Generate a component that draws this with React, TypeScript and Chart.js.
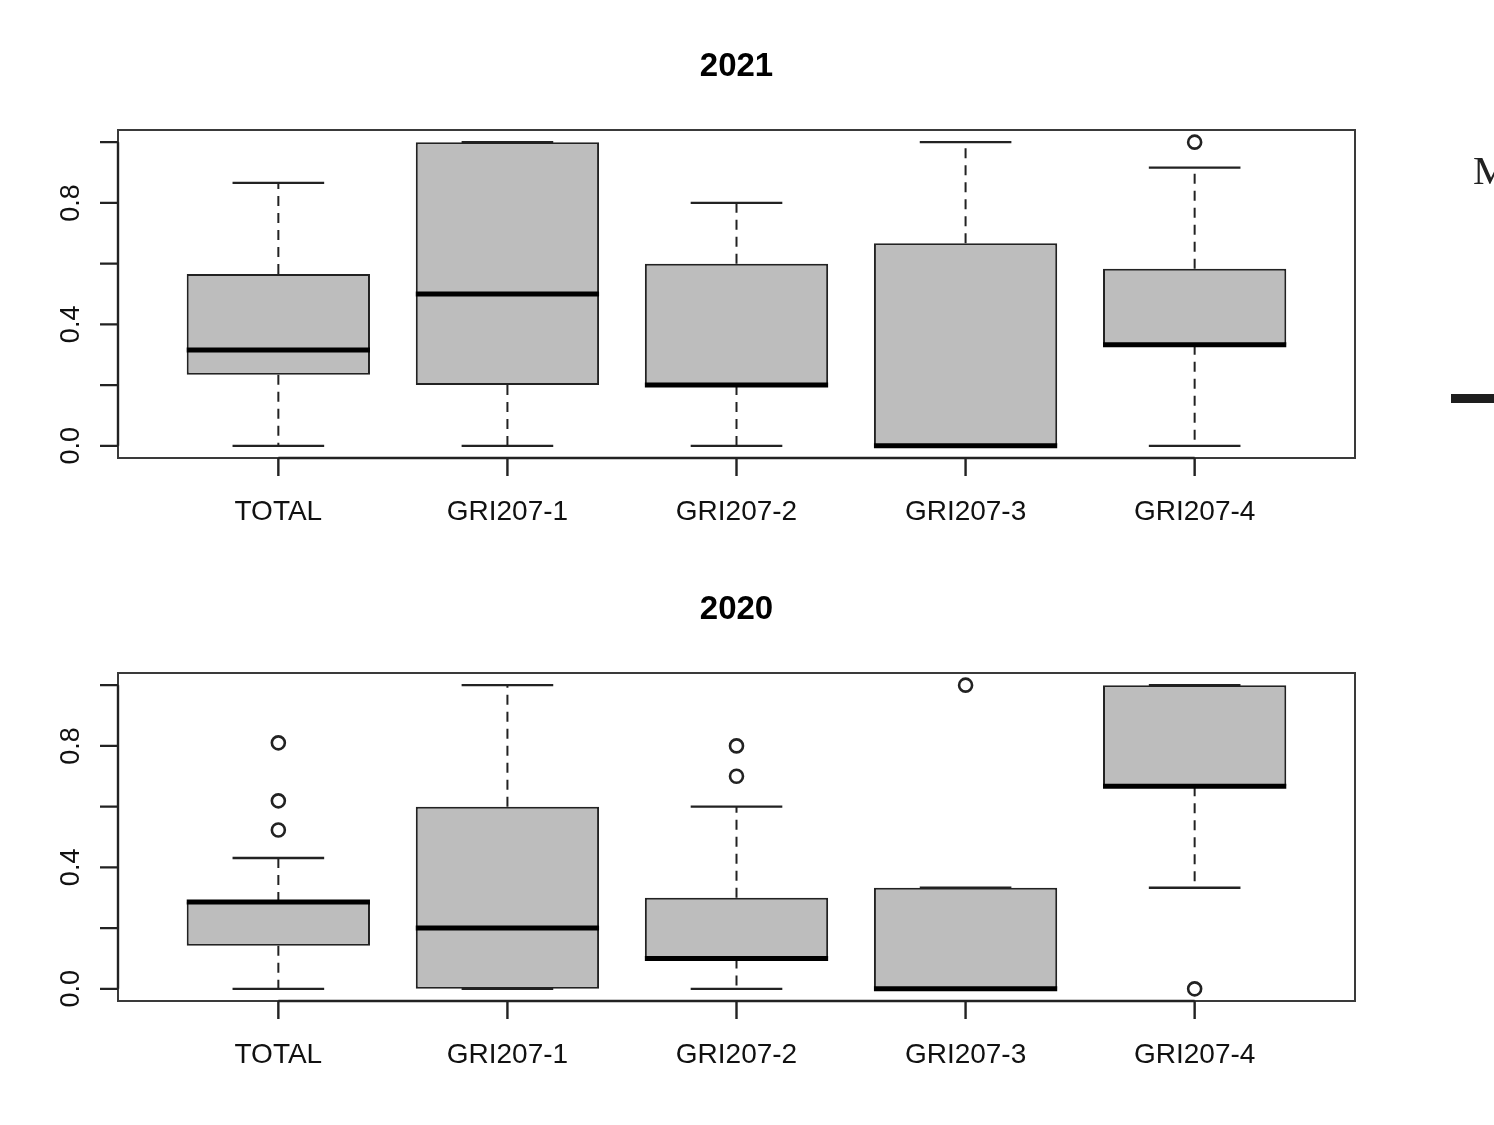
import { useEffect, useRef } from "react"
import { Chart, registerables } from "chart.js"

Chart.register(...registerables)

const categories = ["TOTAL", "GRI207-1", "GRI207-2", "GRI207-3", "GRI207-4"]
const yTickValues = [0, 0.2, 0.4, 0.6, 0.8, 1.0]
const yTickLabels = ["0.0", "", "0.4", "", "0.8", ""]

// 2021
const lower2021 = [0, 0, 0, 0, 0]
const q1_2021 = [0.234, 0.2, 0.2, 0, 0.333]
const median2021 = [0.316, 0.5, 0.2, 0, 0.333]
const q3_2021 = [0.566, 1.0, 0.6, 0.667, 0.583]
const upper2021 = [0.866, 1.0, 0.8, 1.0, 0.916]
const outliers2021 = [[], [], [], [], [1.0]]

// 2020
const lower2020 = [0, 0, 0, 0, 0.333]
const q1_2020 = [0.142, 0, 0.1, 0, 0.667]
const median2020 = [0.286, 0.2, 0.1, 0, 0.667]
const q3_2020 = [0.286, 0.6, 0.3, 0.333, 1.0]
const upper2020 = [0.431, 1.0, 0.6, 0.333, 1.0]
const outliers2020 = [[0.81, 0.619, 0.523], [], [0.8, 0.7], [1.0], [0]]

const FONT = '"Liberation Sans", Arial, Helvetica, sans-serif'
const INK = "#222"
const FILL = "#bdbdbd"

interface BoxPanelProps {
  title: string
  lower: number[]
  q1: number[]
  median: number[]
  q3: number[]
  upper: number[]
  outliers: number[][]
  top: number
}

function BoxPanel({ title, lower, q1, median, q3, upper, outliers, top }: BoxPanelProps) {
  const canvasRef = useRef<HTMLCanvasElement>(null)
  const chartInstance = useRef<Chart | null>(null)

  useEffect(() => {
    if (!canvasRef.current) return
    if (chartInstance.current) chartInstance.current.destroy()

    const positions = categories.map((_, i) => i + 1)
    const points: { x: number; y: number }[] = []
    outliers.forEach((list, i) => list.forEach((v) => points.push({ x: i + 1, y: v })))

    // whiskers, medians, frame and R-style axes
    const rBoxPlugin = {
      id: "rBox",
      beforeDatasetsDraw(chart: any) {
        const { ctx } = chart
        const xs = chart.scales.x
        const ys = chart.scales.y
        ctx.save()
        ctx.strokeStyle = INK
        ctx.lineWidth = 2
        positions.forEach((p, i) => {
          const cx = xs.getPixelForValue(p)
          const l = xs.getPixelForValue(p - 0.2)
          const r = xs.getPixelForValue(p + 0.2)
          ctx.setLineDash([10, 7])
          ctx.beginPath()
          ctx.moveTo(cx, ys.getPixelForValue(q3[i]))
          ctx.lineTo(cx, ys.getPixelForValue(upper[i]))
          ctx.moveTo(cx, ys.getPixelForValue(q1[i]))
          ctx.lineTo(cx, ys.getPixelForValue(lower[i]))
          ctx.stroke()
          ctx.setLineDash([])
          ctx.lineWidth = 2.4
          ctx.beginPath()
          ctx.moveTo(l, ys.getPixelForValue(upper[i]))
          ctx.lineTo(r, ys.getPixelForValue(upper[i]))
          ctx.moveTo(l, ys.getPixelForValue(lower[i]))
          ctx.lineTo(r, ys.getPixelForValue(lower[i]))
          ctx.stroke()
          ctx.lineWidth = 2
        })
        ctx.restore()
      },
      afterDatasetsDraw(chart: any) {
        const { ctx, chartArea } = chart
        const xs = chart.scales.x
        const ys = chart.scales.y
        ctx.save()

        // medians
        ctx.strokeStyle = "#000"
        ctx.lineWidth = 5
        positions.forEach((p, i) => {
          const py = ys.getPixelForValue(median[i])
          ctx.beginPath()
          ctx.moveTo(xs.getPixelForValue(p - 0.4), py)
          ctx.lineTo(xs.getPixelForValue(p + 0.4), py)
          ctx.stroke()
        })

        // frame
        ctx.strokeStyle = "#3a3a3a"
        ctx.lineWidth = 2
        ctx.strokeRect(chartArea.left, chartArea.top, chartArea.right - chartArea.left, chartArea.bottom - chartArea.top)

        // y axis
        ctx.strokeStyle = INK
        ctx.lineWidth = 2.4
        ctx.beginPath()
        ctx.moveTo(chartArea.left, ys.getPixelForValue(yTickValues[0]))
        ctx.lineTo(chartArea.left, ys.getPixelForValue(yTickValues[yTickValues.length - 1]))
        yTickValues.forEach((v) => {
          const py = ys.getPixelForValue(v)
          ctx.moveTo(chartArea.left, py)
          ctx.lineTo(chartArea.left - 18, py)
        })
        ctx.stroke()

        // x axis
        ctx.beginPath()
        ctx.moveTo(xs.getPixelForValue(positions[0]), chartArea.bottom)
        ctx.lineTo(xs.getPixelForValue(positions[positions.length - 1]), chartArea.bottom)
        positions.forEach((p) => {
          const px = xs.getPixelForValue(p)
          ctx.moveTo(px, chartArea.bottom)
          ctx.lineTo(px, chartArea.bottom + 18)
        })
        ctx.stroke()

        // labels
        ctx.fillStyle = "#111"
        ctx.font = `28px ${FONT}`
        ctx.textAlign = "center"
        ctx.textBaseline = "alphabetic"
        positions.forEach((p, i) => {
          ctx.fillText(categories[i], xs.getPixelForValue(p), chartArea.bottom + 62)
        })

        ctx.font = `27px ${FONT}`
        yTickValues.forEach((v, i) => {
          if (!yTickLabels[i]) return
          ctx.save()
          ctx.translate(chartArea.left - 39, ys.getPixelForValue(v))
          ctx.rotate(-Math.PI / 2)
          ctx.fillText(yTickLabels[i], 0, 0)
          ctx.restore()
        })

        // title
        ctx.fillStyle = "#000"
        ctx.font = `bold 33px ${FONT}`
        ctx.fillText(title, (chartArea.left + chartArea.right) / 2, chartArea.top - 54)
        ctx.restore()
      },
    }

    chartInstance.current = new Chart(canvasRef.current, {
      type: "bar",
      data: {
        datasets: [
          {
            type: "bar",
            data: positions.map((p, i) => ({ x: p, y: [q1[i], q3[i]] })) as any,
            backgroundColor: FILL,
            borderColor: INK,
            borderWidth: 2,
            borderSkipped: false,
            categoryPercentage: 1,
            barPercentage: 0.8,
          },
          {
            type: "scatter",
            data: points as any,
            pointRadius: 6.5,
            pointBorderWidth: 2.6,
            pointBorderColor: INK,
            pointBackgroundColor: "rgba(0,0,0,0)",
          } as any,
        ],
      },
      options: {
        responsive: false,
        animation: false,
        events: [],
        layout: { padding: { left: 118, right: 139, top: 130, bottom: 85 } },
        plugins: { legend: { display: false }, tooltip: { enabled: false } },
        scales: {
          x: {
            type: "linear",
            display: false,
            offset: false,
            min: 0.3,
            max: 5.7,
            afterBuildTicks: (s: any) => {
              s.ticks = positions.map((v) => ({ value: v }))
            },
          },
          y: {
            type: "linear",
            display: false,
            min: -0.04,
            max: 1.04,
            afterBuildTicks: (s: any) => {
              s.ticks = yTickValues.map((v) => ({ value: v }))
            },
          },
        },
      },
      plugins: [rBoxPlugin],
    })

    return () => {
      if (chartInstance.current) {
        chartInstance.current.destroy()
        chartInstance.current = null
      }
    }
  }, [title, lower, q1, median, q3, upper, outliers])

  return (
    <canvas
      ref={canvasRef}
      width={1494}
      height={543}
      style={{ position: "absolute", left: 0, top, width: 1494, height: 543 }}
    />
  )
}

export default function App() {
  return (
    <div
      style={{
        position: "absolute",
        left: 0,
        top: 0,
        width: 1494,
        height: 1125,
        overflow: "hidden",
        background: "#fff",
      }}
    >
      <BoxPanel
        title="2021"
        lower={lower2021}
        q1={q1_2021}
        median={median2021}
        q3={q3_2021}
        upper={upper2021}
        outliers={outliers2021}
        top={0}
      />
      <BoxPanel
        title="2020"
        lower={lower2020}
        q1={q1_2020}
        median={median2020}
        q3={q3_2020}
        upper={upper2020}
        outliers={outliers2020}
        top={543}
      />
      <div
        style={{
          position: "absolute",
          left: 1473,
          top: 146,
          fontFamily: '"Liberation Serif", "Times New Roman", serif',
          fontSize: 41,
          lineHeight: "48px",
          color: "#222",
        }}
      >
        M
      </div>
      <div style={{ position: "absolute", left: 1451, top: 394, width: 43, height: 9, background: "#1e1e1e" }} />
    </div>
  )
}
